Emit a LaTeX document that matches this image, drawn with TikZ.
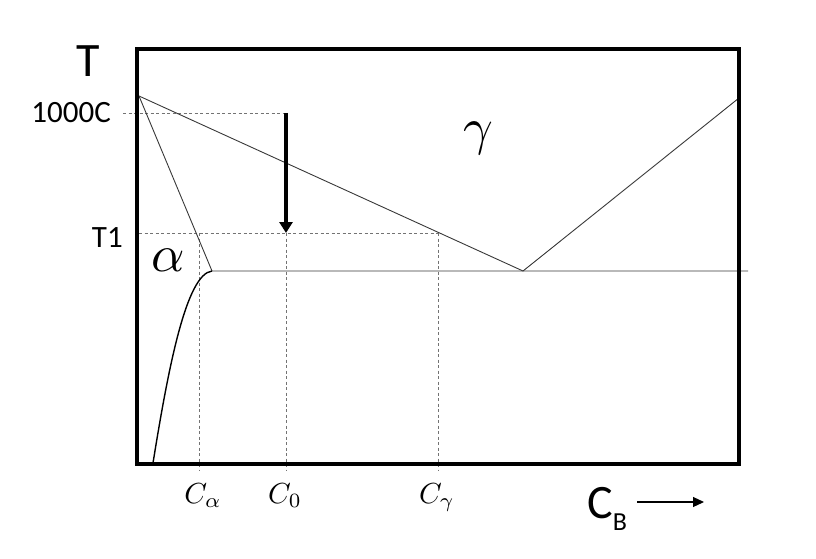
\documentclass[tikz,border=0pt]{standalone}
\usepackage[no-math]{fontspec}
\setmainfont{Carlito}
\usetikzlibrary{arrows.meta}
\begin{document}
\begin{tikzpicture}[x=1pt,y=-1pt,
  frame/.style={line width=4.2pt, draw=black},
  phase/.style={line width=0.9pt, draw=black!78},
  solvus/.style={line width=1.4pt, draw=black},
  guide/.style={line width=0.9pt, draw=black!55, dash pattern=on 3pt off 2.5pt},
  coolarrow/.style={line width=3.5pt, -{Triangle[width=13pt,length=11pt]}},
  axarrow/.style={line width=1.2pt, -{Triangle[width=10pt,length=11pt]}},
  big/.style={inner sep=0pt, font=\fontsize{48}{56}\selectfont},
  tick/.style={inner sep=0pt, font=\fontsize{31}{36}\selectfont},
  greek/.style={inner sep=0pt, scale=5.2},
  comp/.style={inner sep=0pt, scale=2.9}]
\useasboundingbox (0,0) rectangle (816,559);
% key points
\coordinate (L) at (139,96);
\coordinate (E) at (523,271);
\coordinate (R) at (739,98);
\coordinate (A) at (212,271);
\coordinate (H) at (748,271);
\coordinate (S0) at (153,463);
% guides
\coordinate (g1a) at (123,113);
\coordinate (g1b) at (286,113);
\coordinate (g2a) at (139,233);
\coordinate (g2b) at (438,233);
\coordinate (ca1) at (199,233);
\coordinate (ca2) at (199,470);
\coordinate (c01) at (286,233);
\coordinate (c02) at (286,470);
\coordinate (cg1) at (438,233);
\coordinate (cg2) at (438,470);
\draw[guide] (g1a) -- (g1b);
\draw[guide] (g2a) -- (g2b);
\draw[guide] (ca1) -- (ca2);
\draw[guide] (c01) -- (c02);
\draw[guide] (cg1) -- (cg2);
% phase boundaries
\draw[phase] (L) -- (E) -- (R);
\draw[phase] (L) -- (A) -- (H);
\draw[solvus] (S0) .. controls (168,370) and (186,274) .. (A);
% frame
\draw[frame] (137,49) rectangle (739,464);
% cooling arrow
\draw[coolarrow] (g1b) -- (c01);
% labels
\node[big, anchor=base] (T) at (88,77) {T};
\node[tick, anchor=base east] (t1000) at (111,123) {1000C};
\node[tick, anchor=base east] (tT1) at (123,247) {T1};
\node[greek, anchor=base] (al) at (168,271) {$\alpha$};
\node[greek, anchor=base] (ga) at (478,145) {$\gamma$};
\node[comp, anchor=base] (Ca) at (203,503) {$C_{\alpha}$};
\node[comp, anchor=base] (C0) at (285,503) {$C_{0}$};
\node[comp, anchor=base] (Cg) at (437,503) {$C_{\gamma}$};
\node[big, anchor=base west] (CB) at (587,518) {C\raisebox{-12pt}{\fontsize{26}{30}\selectfont B}};
\coordinate (xa1) at (637,502);
\coordinate (xa2) at (704,502);
\draw[axarrow] (xa1) -- (xa2);
\end{tikzpicture}
\end{document}
